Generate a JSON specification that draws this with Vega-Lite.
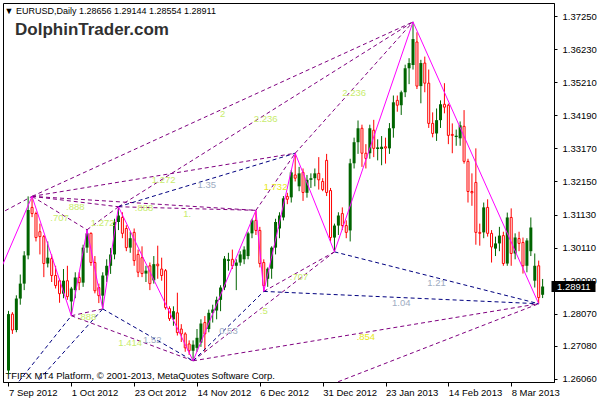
{
"$schema":"https://vega.github.io/schema/vega-lite/v6.json",
"width":551,"height":379,
"autosize":{"type":"none"},
"padding":{"left":3,"top":3,"right":46,"bottom":18},
"background":"white",
"config":{"view":{"stroke":"black","strokeWidth":1},"font":"Liberation Sans","axis":{"grid":false,"labelColor":"black","tickColor":"black","domainColor":"black","labelFont":"Liberation Sans","labelFontSize":9.5,"labelOverlap":false,"labelFlush":false,"labelSeparation":0}},
"title":{"text":"DolphinTrader.com","anchor":"start","frame":"group","orient":"top","offset":-49,"baseline":"alphabetic","dx":12,"fontSize":17,"font":"Liberation Sans","fontWeight":"bold","color":"#303030"},
"datasets":{
"candles":[
{"i":0,"o":1.2632,"h":1.2816,"l":1.2620,"c":1.2806},
{"i":1,"o":1.2806,"h":1.2812,"l":1.2745,"c":1.2757},
{"i":2,"o":1.2757,"h":1.2864,"l":1.2750,"c":1.2854},
{"i":3,"o":1.2854,"h":1.2928,"l":1.2835,"c":1.2900},
{"i":4,"o":1.2900,"h":1.3000,"l":1.2880,"c":1.2987},
{"i":5,"o":1.2987,"h":1.3169,"l":1.2975,"c":1.3127},
{"i":6,"o":1.3135,"h":1.3169,"l":1.3105,"c":1.3116},
{"i":7,"o":1.3116,"h":1.3122,"l":1.3030,"c":1.3042},
{"i":8,"o":1.3060,"h":1.3085,"l":1.2990,"c":1.3045},
{"i":9,"o":1.3045,"h":1.3050,"l":1.2920,"c":1.2962},
{"i":10,"o":1.2962,"h":1.3030,"l":1.2950,"c":1.2980},
{"i":11,"o":1.2977,"h":1.2990,"l":1.2905,"c":1.2925},
{"i":12,"o":1.2925,"h":1.2955,"l":1.2885,"c":1.2894},
{"i":13,"o":1.2909,"h":1.2915,"l":1.2841,"c":1.2869},
{"i":14,"o":1.2869,"h":1.2945,"l":1.2855,"c":1.2909},
{"i":15,"o":1.2909,"h":1.2955,"l":1.2850,"c":1.2860},
{"i":16,"o":1.2845,"h":1.2890,"l":1.2801,"c":1.2885},
{"i":17,"o":1.2880,"h":1.2935,"l":1.2855,"c":1.2919},
{"i":18,"o":1.2919,"h":1.2935,"l":1.2880,"c":1.2903},
{"i":19,"o":1.2903,"h":1.3020,"l":1.2890,"c":1.3011},
{"i":20,"o":1.3011,"h":1.3066,"l":1.2995,"c":1.3055},
{"i":21,"o":1.3055,"h":1.3058,"l":1.2955,"c":1.2965},
{"i":22,"o":1.2965,"h":1.2985,"l":1.2870,"c":1.2878},
{"i":23,"o":1.2888,"h":1.2900,"l":1.2840,"c":1.2863},
{"i":24,"o":1.2863,"h":1.2935,"l":1.2822,"c":1.2925},
{"i":25,"o":1.2925,"h":1.2975,"l":1.2905,"c":1.2955},
{"i":26,"o":1.2955,"h":1.3010,"l":1.2930,"c":1.2990},
{"i":27,"o":1.2990,"h":1.3100,"l":1.2975,"c":1.3090},
{"i":28,"o":1.3090,"h":1.3137,"l":1.3065,"c":1.3110},
{"i":29,"o":1.3104,"h":1.3120,"l":1.3040,"c":1.3055},
{"i":30,"o":1.3070,"h":1.3080,"l":1.3000,"c":1.3011},
{"i":31,"o":1.3011,"h":1.3060,"l":1.2995,"c":1.3040},
{"i":32,"o":1.3058,"h":1.3070,"l":1.2955,"c":1.2971},
{"i":33,"o":1.2990,"h":1.3005,"l":1.2920,"c":1.2935},
{"i":34,"o":1.2980,"h":1.3015,"l":1.2920,"c":1.2931},
{"i":35,"o":1.2931,"h":1.2955,"l":1.2905,"c":1.2940},
{"i":36,"o":1.2955,"h":1.2965,"l":1.2880,"c":1.2900},
{"i":37,"o":1.2910,"h":1.2985,"l":1.2900,"c":1.2960},
{"i":38,"o":1.2960,"h":1.3017,"l":1.2915,"c":1.2955},
{"i":39,"o":1.2945,"h":1.2980,"l":1.2909,"c":1.2925},
{"i":40,"o":1.2940,"h":1.2945,"l":1.2820,"c":1.2826},
{"i":41,"o":1.2823,"h":1.2830,"l":1.2785,"c":1.2792},
{"i":42,"o":1.2790,"h":1.2830,"l":1.2770,"c":1.2815},
{"i":43,"o":1.2810,"h":1.2872,"l":1.2740,"c":1.2749},
{"i":44,"o":1.2760,"h":1.2775,"l":1.2720,"c":1.2745},
{"i":45,"o":1.2745,"h":1.2750,"l":1.2690,"c":1.2702},
{"i":46,"o":1.2714,"h":1.2725,"l":1.2680,"c":1.2693},
{"i":47,"o":1.2693,"h":1.2725,"l":1.2662,"c":1.2712},
{"i":48,"o":1.2702,"h":1.2760,"l":1.2690,"c":1.2733},
{"i":49,"o":1.2718,"h":1.2790,"l":1.2705,"c":1.2777},
{"i":50,"o":1.2780,"h":1.2800,"l":1.2690,"c":1.2745},
{"i":51,"o":1.2760,"h":1.2820,"l":1.2750,"c":1.2810},
{"i":52,"o":1.2810,"h":1.2835,"l":1.2780,"c":1.2820},
{"i":53,"o":1.2817,"h":1.2860,"l":1.2790,"c":1.2850},
{"i":54,"o":1.2850,"h":1.2895,"l":1.2815,"c":1.2888},
{"i":55,"o":1.2888,"h":1.2985,"l":1.2880,"c":1.2977},
{"i":56,"o":1.2970,"h":1.2995,"l":1.2940,"c":1.2975},
{"i":57,"o":1.2975,"h":1.3005,"l":1.2945,"c":1.2955},
{"i":58,"o":1.2955,"h":1.2975,"l":1.2880,"c":1.2965},
{"i":59,"o":1.2965,"h":1.3000,"l":1.2955,"c":1.2990},
{"i":60,"o":1.2975,"h":1.3015,"l":1.2960,"c":1.3005},
{"i":61,"o":1.2985,"h":1.3060,"l":1.2975,"c":1.3055},
{"i":62,"o":1.3055,"h":1.3100,"l":1.3040,"c":1.3095},
{"i":63,"o":1.3095,"h":1.3126,"l":1.3050,"c":1.3064},
{"i":64,"o":1.3064,"h":1.3075,"l":1.2950,"c":1.2962},
{"i":65,"o":1.2965,"h":1.2975,"l":1.2876,"c":1.2894},
{"i":66,"o":1.2915,"h":1.2950,"l":1.2890,"c":1.2946},
{"i":67,"o":1.2946,"h":1.3015,"l":1.2915,"c":1.3011},
{"i":68,"o":1.3011,"h":1.3100,"l":1.2990,"c":1.3090},
{"i":69,"o":1.3070,"h":1.3120,"l":1.3040,"c":1.3110},
{"i":70,"o":1.3104,"h":1.3170,"l":1.3095,"c":1.3163},
{"i":71,"o":1.3169,"h":1.3180,"l":1.3145,"c":1.3160},
{"i":72,"o":1.3166,"h":1.3250,"l":1.3150,"c":1.3243},
{"i":73,"o":1.3235,"h":1.3302,"l":1.3215,"c":1.3225},
{"i":74,"o":1.3200,"h":1.3260,"l":1.3185,"c":1.3240},
{"i":75,"o":1.3243,"h":1.3255,"l":1.3155,"c":1.3181},
{"i":76,"o":1.3180,"h":1.3235,"l":1.3165,"c":1.3220},
{"i":77,"o":1.3220,"h":1.3240,"l":1.3195,"c":1.3225},
{"i":78,"o":1.3225,"h":1.3255,"l":1.3200,"c":1.3240},
{"i":79,"o":1.3240,"h":1.3290,"l":1.3190,"c":1.3220},
{"i":80,"o":1.3215,"h":1.3225,"l":1.3185,"c":1.3190},
{"i":81,"o":1.3280,"h":1.3300,"l":1.3170,"c":1.3181},
{"i":82,"o":1.3187,"h":1.3195,"l":1.3030,"c":1.3042},
{"i":83,"o":1.3042,"h":1.3085,"l":1.2998,"c":1.3079},
{"i":84,"o":1.3079,"h":1.3120,"l":1.3050,"c":1.3110},
{"i":85,"o":1.3116,"h":1.3135,"l":1.3065,"c":1.3079},
{"i":86,"o":1.3079,"h":1.3095,"l":1.3040,"c":1.3058},
{"i":87,"o":1.3064,"h":1.3285,"l":1.3030,"c":1.3271},
{"i":88,"o":1.3271,"h":1.3350,"l":1.3255,"c":1.3336},
{"i":89,"o":1.3336,"h":1.3403,"l":1.3300,"c":1.3379},
{"i":90,"o":1.3379,"h":1.3390,"l":1.3260,"c":1.3302},
{"i":91,"o":1.3302,"h":1.3330,"l":1.3255,"c":1.3286},
{"i":92,"o":1.3302,"h":1.3390,"l":1.3285,"c":1.3379},
{"i":93,"o":1.3373,"h":1.3405,"l":1.3290,"c":1.3317},
{"i":94,"o":1.3315,"h":1.3345,"l":1.3280,"c":1.3320},
{"i":95,"o":1.3315,"h":1.3355,"l":1.3265,"c":1.3322},
{"i":96,"o":1.3322,"h":1.3350,"l":1.3270,"c":1.3318},
{"i":97,"o":1.3317,"h":1.3395,"l":1.3300,"c":1.3379},
{"i":98,"o":1.3379,"h":1.3480,"l":1.3350,"c":1.3459},
{"i":99,"o":1.3465,"h":1.3480,"l":1.3430,"c":1.3450},
{"i":100,"o":1.3450,"h":1.3495,"l":1.3420,"c":1.3490},
{"i":101,"o":1.3490,"h":1.3575,"l":1.3475,"c":1.3564},
{"i":102,"o":1.3564,"h":1.3595,"l":1.3515,"c":1.3580},
{"i":103,"o":1.3574,"h":1.3707,"l":1.3560,"c":1.3654},
{"i":104,"o":1.3645,"h":1.3675,"l":1.3500,"c":1.3509},
{"i":105,"o":1.3509,"h":1.3590,"l":1.3456,"c":1.3580},
{"i":106,"o":1.3580,"h":1.3600,"l":1.3490,"c":1.3518},
{"i":107,"o":1.3518,"h":1.3560,"l":1.3380,"c":1.3394},
{"i":108,"o":1.3394,"h":1.3428,"l":1.3351,"c":1.3363},
{"i":109,"o":1.3363,"h":1.3440,"l":1.3340,"c":1.3404},
{"i":110,"o":1.3404,"h":1.3465,"l":1.3380,"c":1.3453},
{"i":111,"o":1.3453,"h":1.3518,"l":1.3425,"c":1.3444},
{"i":112,"o":1.3450,"h":1.3455,"l":1.3330,"c":1.3357},
{"i":113,"o":1.3360,"h":1.3394,"l":1.3302,"c":1.3357},
{"i":114,"o":1.3352,"h":1.3375,"l":1.3325,"c":1.3356},
{"i":115,"o":1.3348,"h":1.3400,"l":1.3325,"c":1.3388},
{"i":116,"o":1.3385,"h":1.3435,"l":1.3270,"c":1.3277},
{"i":117,"o":1.3277,"h":1.3285,"l":1.3150,"c":1.3184},
{"i":118,"o":1.3184,"h":1.3240,"l":1.3140,"c":1.3180},
{"i":119,"o":1.3212,"h":1.3317,"l":1.3020,"c":1.3058},
{"i":120,"o":1.3058,"h":1.3085,"l":1.3017,"c":1.3055},
{"i":121,"o":1.3058,"h":1.3150,"l":1.3040,"c":1.3135},
{"i":122,"o":1.3135,"h":1.3160,"l":1.3045,"c":1.3055},
{"i":123,"o":1.3055,"h":1.3065,"l":1.2965,"c":1.3013},
{"i":124,"o":1.3008,"h":1.3045,"l":1.2985,"c":1.3024},
{"i":125,"o":1.3024,"h":1.3075,"l":1.3000,"c":1.3048},
{"i":126,"o":1.3048,"h":1.3060,"l":1.2955,"c":1.2962},
{"i":127,"o":1.2962,"h":1.3119,"l":1.2955,"c":1.3104},
{"i":128,"o":1.3104,"h":1.3132,"l":1.2955,"c":1.2993},
{"i":129,"o":1.2993,"h":1.3055,"l":1.2975,"c":1.3042},
{"i":130,"o":1.3039,"h":1.3060,"l":1.3000,"c":1.3024},
{"i":131,"o":1.3027,"h":1.3042,"l":1.2931,"c":1.2955},
{"i":132,"o":1.2955,"h":1.3040,"l":1.2935,"c":1.3033},
{"i":133,"o":1.3000,"h":1.3104,"l":1.2985,"c":1.3073},
{"i":134,"o":1.2909,"h":1.2993,"l":1.2888,"c":1.2955},
{"i":135,"o":1.2955,"h":1.2971,"l":1.2838,"c":1.2857},
{"i":136,"o":1.28656,"h":1.29144,"l":1.28554,"c":1.28911}
],
"zigzag":[
{"i":-34,"p":1.2042},{"i":6,"p":1.3169},{"i":16,"p":1.2801},{"i":20,"p":1.3066},{"i":24,"p":1.2822},{"i":28,"p":1.3137},{"i":47,"p":1.2662},{"i":63,"p":1.3126},{"i":65,"p":1.2876},{"i":73,"p":1.3302},{"i":83,"p":1.2998},{"i":103,"p":1.3707},{"i":135,"p":1.2838}
],
"lines":[
{"id":"a","k":"p","i":-59,"p":1.2748},{"id":"a","k":"p","i":6,"p":1.3169},
{"id":"b","k":"p","i":6,"p":1.3169},{"id":"b","k":"p","i":20,"p":1.3066},
{"id":"c","k":"p","i":6,"p":1.3169},{"id":"c","k":"p","i":28,"p":1.3137},
{"id":"d","k":"p","i":20,"p":1.3066},{"id":"d","k":"p","i":28,"p":1.3137},
{"id":"e","k":"p","i":6,"p":1.3169},{"id":"e","k":"p","i":63,"p":1.3126},
{"id":"f","k":"p","i":28,"p":1.3137},{"id":"f","k":"p","i":63,"p":1.3126},
{"id":"g","k":"p","i":6,"p":1.3169},{"id":"g","k":"p","i":73,"p":1.3302},
{"id":"h","k":"p","i":63,"p":1.3126},{"id":"h","k":"p","i":73,"p":1.3302},
{"id":"i","k":"p","i":6,"p":1.3169},{"id":"i","k":"p","i":103,"p":1.3707},
{"id":"j","k":"p","i":28,"p":1.3137},{"id":"j","k":"p","i":103,"p":1.3707},
{"id":"k","k":"p","i":73,"p":1.3302},{"id":"k","k":"p","i":103,"p":1.3707},
{"id":"l","k":"p","i":16,"p":1.2801},{"id":"l","k":"p","i":24,"p":1.2822},
{"id":"m","k":"p","i":16,"p":1.2801},{"id":"m","k":"p","i":47,"p":1.2662},
{"id":"n","k":"p","i":47,"p":1.2662},{"id":"n","k":"p","i":83,"p":1.2998},
{"id":"o","k":"p","i":65,"p":1.2876},{"id":"o","k":"p","i":83,"p":1.2998},
{"id":"q","k":"p","i":47,"p":1.2662},{"id":"q","k":"p","i":135,"p":1.2838},
{"id":"r","k":"p","i":-34,"p":1.2042},{"id":"r","k":"p","i":135,"p":1.2838},
{"id":"s","k":"n","i":28,"p":1.3137},{"id":"s","k":"n","i":73,"p":1.3302},
{"id":"t","k":"n","i":24,"p":1.2822},{"id":"t","k":"n","i":47,"p":1.2662},
{"id":"u","k":"n","i":47,"p":1.2662},{"id":"u","k":"n","i":65,"p":1.2876},
{"id":"v","k":"n","i":65,"p":1.2876},{"id":"v","k":"n","i":135,"p":1.2838},
{"id":"w","k":"n","i":83,"p":1.2998},{"id":"w","k":"n","i":135,"p":1.2838},
{"id":"x","k":"n","i":-34,"p":1.2042},{"id":"x","k":"n","i":16,"p":1.2801},
{"id":"y","k":"n","i":-34,"p":1.2042},{"id":"y","k":"n","i":24,"p":1.2822}
],
"labels":[
{"t":".707","k":"y","i":13,"p":1.31175},
{"t":".888","k":"y","i":17,"p":1.3153},
{"t":"1.272","k":"y","i":24,"p":1.31015},
{"t":".888","k":"y","i":34.5,"p":1.31475},
{"t":"1.","k":"y","i":45.5,"p":1.31315},
{"t":"1.272","k":"y","i":39.5,"p":1.32355},
{"t":"1.732","k":"Y","i":68,"p":1.3214},
{"t":"2","k":"y","i":54.5,"p":1.3438},
{"t":"2.236","k":"y","i":65.5,"p":1.3422},
{"t":"2.236","k":"y","i":88,"p":1.35045},
{"t":".888","k":"y","i":20,"p":1.28115},
{"t":"1.414","k":"y","i":31,"p":1.27315},
{"t":".5","k":"y","i":65,"p":1.2830},
{"t":".707","k":"y","i":74,"p":1.2937},
{"t":".854","k":"Y","i":91,"p":1.2750},
{"t":"1.35","k":"g","i":50.5,"p":1.32195},
{"t":"1.52","k":"g","i":36.6,"p":1.2742},
{"t":"0.53","k":"g","i":56,"p":1.2769},
{"t":"1.04","k":"g","i":100,"p":1.2857},
{"t":"1.21","k":"g","i":109,"p":1.2918}
],
"last":[{"c":1.28911,"t":"1.28911"}]
},
"layer":[
{"data":{"name":"candles"},
 "mark":{"type":"rule","strokeWidth":1},
 "encoding":{
  "x":{"field":"i","type":"quantitative","scale":{"domain":[-0.125,137.625],"nice":false,"zero":false},
   "axis":{"values":[0,16,32,48,64,80,96,112,128],"tickCount":30,"labelExpr":"['7 Sep 2012','1 Oct 2012','23 Oct 2012','14 Nov 2012','6 Dec 2012','31 Dec 2012','23 Jan 2013','14 Feb 2013','8 Mar 2013'][round(datum.value/16)]","labelAlign":"left","labelBaseline":"top","labelPadding":1,"tickSize":4,"labelOverlap":false,"title":"TFIFX MT4 Platform, © 2001-2013, MetaQuotes Software Corp.","titleX":2,"titleY":-4,"titleAlign":"left","titleAnchor":"start","titleBaseline":"alphabetic","titleFont":"Liberation Sans","titleFontSize":9.5,"titleFontWeight":"normal","titleColor":"black"}},
  "y":{"field":"l","type":"quantitative","scale":{"domain":[1.25967,1.37652],"nice":false,"zero":false},
   "axis":{"orient":"right","values":[1.2606,1.2708,1.2807,1.2909,1.3011,1.3113,1.3215,1.3317,1.3419,1.3521,1.3623,1.3725],"tickCount":30,"format":".5f","tickSize":3,"labelPadding":5,"labelOverlap":false,"labelBound":false,"title":"▼ EURUSD,Daily  1.28656 1.29144 1.28554 1.28911","titleAngle":0,"titleX":-550,"titleY":10,"titleAlign":"left","titleBaseline":"alphabetic","titleFont":"Liberation Sans","titleFontSize":9,"titleFontWeight":"normal","titleColor":"black"}},
  "y2":{"field":"h"},
  "color":{"condition":{"test":"datum.c >= datum.o","value":"#006400"},"value":"#ff0000"}
 }},
{"data":{"name":"candles"},
 "transform":[{"filter":"datum.c >= datum.o"}],
 "mark":{"type":"bar","size":3,"color":"#006400"},
 "encoding":{
  "x":{"field":"i","type":"quantitative"},
  "y":{"field":"o","type":"quantitative"},
  "y2":{"field":"c"}
 }},
{"data":{"name":"candles"},
 "transform":[{"filter":"datum.c < datum.o"}],
 "mark":{"type":"bar","size":2,"fill":"white","stroke":"#ff0000","strokeWidth":1},
 "encoding":{
  "x":{"field":"i","type":"quantitative"},
  "y":{"field":"o","type":"quantitative"},
  "y2":{"field":"c"}
 }},
{"data":{"name":"lines"},
 "mark":{"type":"line","strokeWidth":1,"strokeDash":[4,3],"clip":true},
 "encoding":{
  "x":{"field":"i","type":"quantitative"},
  "y":{"field":"p","type":"quantitative"},
  "detail":{"field":"id"},
  "color":{"condition":{"test":"datum.k == 'n'","value":"#000080"},"value":"#800080"}
 }},
{"data":{"name":"zigzag"},
 "mark":{"type":"line","strokeWidth":1,"color":"#ff00ff","clip":true},
 "encoding":{
  "x":{"field":"i","type":"quantitative"},
  "y":{"field":"p","type":"quantitative"},
  "order":{"field":"i"}
 }},
{"data":{"name":"labels"},
 "mark":{"type":"text","fontSize":9.5,"font":"Liberation Sans","align":"center","baseline":"middle","dy":5},
 "encoding":{
  "x":{"field":"i","type":"quantitative"},
  "y":{"field":"p","type":"quantitative"},
  "text":{"field":"t"},
  "color":{"condition":[{"test":"datum.k == 'g'","value":"#9eacc2"},{"test":"datum.k == 'Y'","value":"#e8e820"}],"value":"#c8ec6c"}
 }},
{"data":{"name":"last"},
 "mark":{"type":"tick","orient":"horizontal","size":44,"thickness":11,"color":"black","opacity":1,"clip":false,"xOffset":24.5},
 "encoding":{
  "x":{"datum":137.625,"type":"quantitative"},
  "y":{"field":"c","type":"quantitative"}
 }},
{"data":{"name":"last"},
 "mark":{"type":"text","align":"left","baseline":"middle","dx":8,"color":"white","fontSize":9.5,"font":"Liberation Sans","clip":false},
 "encoding":{
  "x":{"datum":137.625,"type":"quantitative"},
  "y":{"field":"c","type":"quantitative"},
  "text":{"field":"t"}
 }}
]
}
